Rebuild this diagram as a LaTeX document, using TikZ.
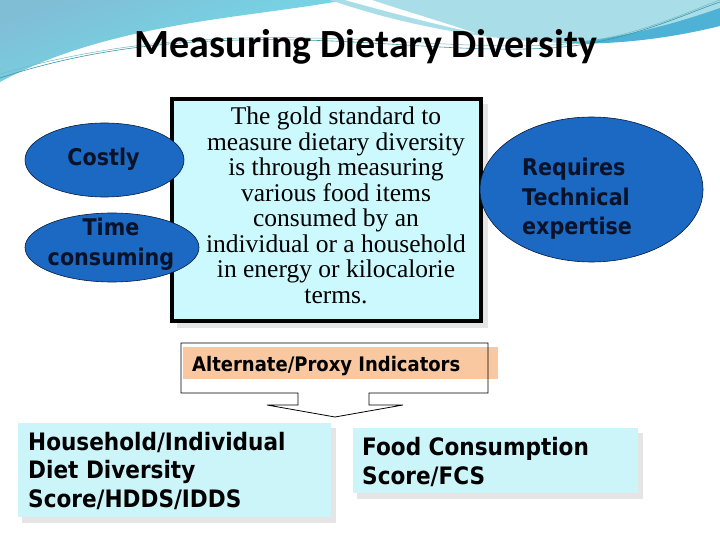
\documentclass[tikz,border=0pt]{standalone}
\usepackage{fontspec}
\setmainfont{Liberation Serif}
\newfontfamily\titlefont{Carlito}
\newfontfamily\labelfont[FakeStretch=0.9]{DejaVu Sans}
\usetikzlibrary{shapes.geometric}
\definecolor{ellblue}{HTML}{1B69C3}
\definecolor{ellnavy}{HTML}{0A1A3A}
\definecolor{txtnavy}{HTML}{0A1228}
\definecolor{goldfill}{HTML}{CCF9FD}
\definecolor{lowfill}{HTML}{CCF5FA}
\definecolor{orng}{HTML}{F9C8A0}
\definecolor{wavea}{HTML}{80BED6}
\definecolor{waveb}{HTML}{6FE2EE}
\definecolor{wavec}{HTML}{A9DEE9}
\definecolor{waved}{HTML}{4DB2D6}
\definecolor{waveline}{HTML}{3A98A8}
\begin{document}
\begin{tikzpicture}[x=1pt,y=-1pt,
  ell/.style={ellipse, draw=ellnavy, line width=0.6pt, fill=ellblue, inner sep=0pt},
  elltext/.style={font=\labelfont\bfseries\fontsize{23}{29.5}\selectfont, text=txtnavy, inner sep=0pt},
  lowbox/.style={fill=lowfill, inner sep=0pt},
  lowtext/.style={font=\labelfont\bfseries\fontsize{24}{28.5}\selectfont, text=black, inner sep=0pt, align=left},
  shadowbox/.style={fill=black!10}
]
\useasboundingbox (0,0) rectangle (720,540);
\fill[white] (0,0) rectangle (720,540);

% background waves
\shade[top color=wavea, bottom color=waveb, shading angle=20]
  (0,0) -- (345,0) .. controls (250,18) and (110,22) .. (0,82) -- cycle;
\fill[wavec] (330,0) -- (720,0) -- (720,10) .. controls (660,32) and (610,44) .. (565,43)
  .. controls (480,40) and (400,24) .. (330,0) -- cycle;
\fill[white] (345,0) .. controls (395,14) and (435,24) .. (475,33)
  .. controls (430,18) and (395,8) .. (372,0) -- cycle;
\fill[waved] (560,43) .. controls (620,40) and (680,22) .. (720,8)
  -- (720,26) .. controls (680,36) and (620,46) .. (560,43) -- cycle;
\draw[waveline, line width=0.6pt] (0,78) .. controls (100,45) and (200,38) .. (300,40)
  .. controls (400,42) and (500,56) .. (580,45) .. controls (640,36) and (690,12) .. (720,2);
\draw[waveline!70, line width=0.5pt] (0,74) .. controls (110,42) and (210,36) .. (310,38)
  .. controls (410,40) and (510,52) .. (585,42) .. controls (645,33) and (692,10) .. (720,0);

% title
\node[font=\titlefont\bfseries\fontsize{40}{46}\selectfont, anchor=base, inner sep=0pt] (title)
  at (366,58) {Measuring Dietary Diversity};

% central box
\fill[shadowbox] (177,104) rectangle (488,328);
\node[draw=black, line width=4pt, fill=goldfill, minimum width=309pt, minimum height=222pt,
  inner sep=0pt] (gold) at (326.5,210) {};
\node[font=\fontsize{25.5}{25.5}\selectfont, align=center, anchor=base, inner sep=0pt] (goldtext)
  at (336,303) {The gold standard to\\measure dietary diversity\\is through measuring\\various food items\\consumed by an\\individual or a household\\in energy or kilocalorie\\terms.};

% ellipses
\node[ell, minimum width=159pt, minimum height=74pt] (costly) at (104.5,160) {};
\node[elltext, anchor=base] (costlytext) at (103.5,166) {Costly};
\node[ell, minimum width=174pt, minimum height=69pt] (time) at (112,247.5) {};
\node[elltext, align=center, anchor=base] (timetext) at (111,265) {Time\\consuming};
\node[ell, minimum width=223pt, minimum height=145pt] (tech) at (591.5,189.5) {};
\node[elltext, align=left, anchor=base west] (techtext) at (522,235) {Requires\\Technical\\expertise};

% alternate / proxy callout
\fill[orng] (183,347) rectangle (498,379);
\coordinate (a1) at (181,343);
\coordinate (a2) at (488,343);
\coordinate (a3) at (488,393);
\coordinate (a4) at (369,393);
\coordinate (a5) at (369,405);
\coordinate (a6) at (403,405);
\coordinate (tip) at (335,417);
\coordinate (a7) at (267,405);
\coordinate (a8) at (298,405);
\coordinate (a9) at (298,393);
\coordinate (a10) at (181,393);
\draw[line width=0.8pt] (a1) -- (a2) -- (a3) -- (a4) -- (a5) -- (a6) -- (tip) -- (a7) -- (a8) -- (a9) -- (a10) -- cycle;
\node[font=\labelfont\bfseries\fontsize{20}{24}\selectfont, anchor=base west, inner sep=0pt] (alttext)
  at (192,371) {Alternate/Proxy Indicators};

% lower boxes
\fill[shadowbox] (22,428) rectangle (336,523);
\fill[lowbox] (18,423) rectangle (331,517);
\node[lowtext, anchor=base west] (hddstext) at (28,507) {Household/Individual\\Diet Diversity\\Score/HDDS/IDDS};
\fill[shadowbox] (357,433) rectangle (643,499);
\fill[lowbox] (353,428) rectangle (638,493);
\node[lowtext, anchor=base west] (fcstext) at (362,484) {Food Consumption\\Score/FCS};
\end{tikzpicture}
\end{document}
